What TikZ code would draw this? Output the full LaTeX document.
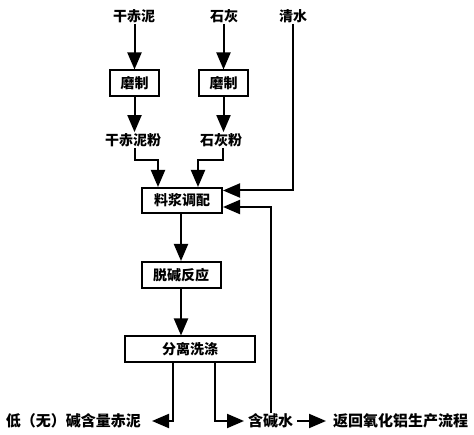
\documentclass[tikz,border=0pt]{standalone}
\usepackage{fontspec}
\newfontfamily\cjk{Noto Sans CJK SC}
\usetikzlibrary{arrows.meta}
\tikzset{
  lbl/.style={font=\cjk\bfseries\fontsize{14}{16}\selectfont, inner sep=1pt},
  boxn/.style={draw, line width=2pt, minimum height=26pt, inner sep=0pt, font=\cjk\bfseries\fontsize{14}{16}\selectfont},
  arr/.style={line width=2pt, -{Triangle[length=17pt,width=14pt]}},
  ln/.style={line width=2pt}
}
\begin{document}
\begin{tikzpicture}[x=1pt,y=-1pt]
\useasboundingbox (0,0) rectangle (474,435);
% top inputs
\node[lbl] (t1) at (134,16) {干赤泥};
\node[lbl] (t2) at (224,16) {石灰};
\node[lbl] (t3) at (293,16) {清水};
% grinding boxes
\node[boxn, minimum width=49pt] (b1) at (134.5,83.5) {磨制};
\node[boxn, minimum width=49pt] (b2) at (223.5,83.5) {磨制};
% powders
\node[lbl] (p1) at (133,140) {干赤泥粉};
\node[lbl] (p2) at (221,140) {石灰粉};
% main chain
\node[boxn, minimum width=80pt, minimum height=25pt] (m) at (182,200.5) {料浆调配};
\node[boxn, minimum width=79pt] (r) at (181,275) {脱碱反应};
\node[boxn, minimum width=130pt] (s) at (190,349.5) {分离洗涤};
% outputs
\node[lbl, anchor=east, font=\cjk\bfseries\fontsize{15}{16}\selectfont] (o1) at (142,421) {低（无）碱含量赤泥};
\node[lbl, anchor=west, font=\cjk\bfseries\fontsize{15}{16}\selectfont] (w) at (247,421) {含碱水};
\node[lbl, anchor=west, font=\cjk\bfseries\fontsize{15}{16}\selectfont] (ret) at (332,421) {返回氧化铝生产流程};
% connectors
\draw[arr] (t1.south -| b1.north) -- (b1.north);
\draw[arr] (t2.south -| b2.north) -- (b2.north);
\draw[arr] (b1.south) -- (b1.south |- p1.north);
\draw[arr] (b2.south) -- (b2.south |- p2.north);
\draw[arr] ([xshift=2pt]p1.south) -- ++(0,12) -| ([xshift=-24pt]m.north);
\draw[arr] ([xshift=2pt]p2.south) -- ++(0,12) -| ([xshift=16pt]m.north);
\draw[arr] (t3.south) |- ([yshift=10pt]m.east);
\draw[arr] ([xshift=-1pt]m.south) -- ([xshift=-1pt]m.south |- r.north);
\draw[arr] (r.south) -- (r.south |- s.north);
\draw[arr] ([xshift=-17pt]s.south) |- ([xshift=10pt]o1.east);
\draw[arr] ([xshift=25pt]s.south) |- ([xshift=-3pt]w.west);
\draw[arr] (w.north) |- ([yshift=-6.5pt]m.east);
\draw[arr] ([xshift=3pt]w.east) -- ([xshift=-6pt]ret.west);
\end{tikzpicture}
\end{document}
